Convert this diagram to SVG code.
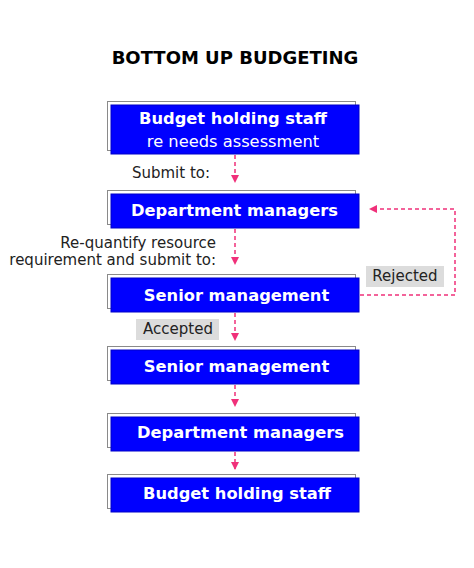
<svg xmlns="http://www.w3.org/2000/svg" width="474" height="568" viewBox="0 0 474 568">
<style>
.back{fill:#ffffff;stroke:#8a8a8a;stroke-width:1}
.box{fill:#0000ff;stroke:#0000c8;stroke-width:1}
.nt{font-family:"DejaVu Sans",Verdana,sans-serif;font-size:16.3px;font-weight:bold;fill:#ffffff;text-anchor:middle}
.nt2{font-family:"DejaVu Sans",Verdana,sans-serif;font-size:16.3px;fill:#ffffff;text-anchor:middle}
.lbl{font-family:"DejaVu Sans",Verdana,sans-serif;font-size:15px;fill:#222222}
.tag{fill:#dcdcdc}
.con{fill:none;stroke:#f0307a;stroke-width:1.5;stroke-dasharray:4 3}
.title{font-family:"DejaVu Sans",Verdana,sans-serif;font-size:18px;font-weight:bold;fill:#000000;text-anchor:middle}
</style>
<defs>
<marker id="ah" markerWidth="8" markerHeight="8" refX="7" refY="4" orient="auto" markerUnits="userSpaceOnUse">
<path d="M0,0 L8,4 L0,8 Z" fill="#f0307a"/>
</marker>
</defs>
<rect width="474" height="568" fill="#ffffff"/>
<text class="title" x="235" y="64">BOTTOM UP BUDGETING</text>

<g id="connectors">
<line class="con" x1="235" y1="155" x2="235" y2="182" marker-end="url(#ah)"/>
<line class="con" x1="235" y1="229" x2="235" y2="264" marker-end="url(#ah)"/>
<line class="con" x1="235" y1="313" x2="235" y2="340" marker-end="url(#ah)"/>
<line class="con" x1="235" y1="385" x2="235" y2="406" marker-end="url(#ah)"/>
<line class="con" x1="235" y1="452" x2="235" y2="469" marker-end="url(#ah)"/>
<polyline class="con" points="360,295 455,295 455,209 370,209" marker-end="url(#ah)"/>
</g>

<g id="label-submit"><text class="lbl" x="210" y="178" text-anchor="end">Submit to:</text></g>
<g id="label-requantify">
<text class="lbl" x="216" y="248" text-anchor="end">Re-quantify resource</text>
<text class="lbl" x="216" y="265" text-anchor="end">requirement and submit to:</text>
</g>
<g id="label-rejected"><rect class="tag" x="366" y="266" width="78" height="21"/><text class="lbl" x="405" y="281" text-anchor="middle">Rejected</text></g>
<g id="label-accepted"><rect class="tag" x="136" y="319" width="83" height="21"/><text class="lbl" x="178" y="334" text-anchor="middle">Accepted</text></g>

<g id="node-budget-staff-top">
<rect class="back" x="107.5" y="101.5" width="248" height="49"/>
<rect class="box" x="111" y="105" width="248" height="49"/>
<text class="nt" x="233" y="124">Budget holding staff</text>
<text class="nt2" x="233" y="147">re needs assessment</text>
</g>
<g id="node-dept-managers-top">
<rect class="back" x="107.5" y="190.5" width="248" height="34"/>
<rect class="box" x="111" y="194" width="248" height="34"/>
<text class="nt" x="234.5" y="216">Department managers</text>
</g>
<g id="node-senior-mgmt-1">
<rect class="back" x="107.5" y="274.5" width="248" height="34"/>
<rect class="box" x="111" y="278" width="248" height="34"/>
<text class="nt" x="236.5" y="301">Senior management</text>
</g>
<g id="node-senior-mgmt-2">
<rect class="back" x="107.5" y="346.5" width="248" height="34"/>
<rect class="box" x="111" y="350" width="248" height="34"/>
<text class="nt" x="236.5" y="372">Senior management</text>
</g>
<g id="node-dept-managers-bottom">
<rect class="back" x="107.5" y="413.5" width="248" height="34"/>
<rect class="box" x="111" y="417" width="248" height="34"/>
<text class="nt" x="240.5" y="438">Department managers</text>
</g>
<g id="node-budget-staff-bottom">
<rect class="back" x="107.5" y="474.5" width="248" height="34"/>
<rect class="box" x="111" y="478" width="248" height="34"/>
<text class="nt" x="237" y="499">Budget holding staff</text>
</g>
</svg>
